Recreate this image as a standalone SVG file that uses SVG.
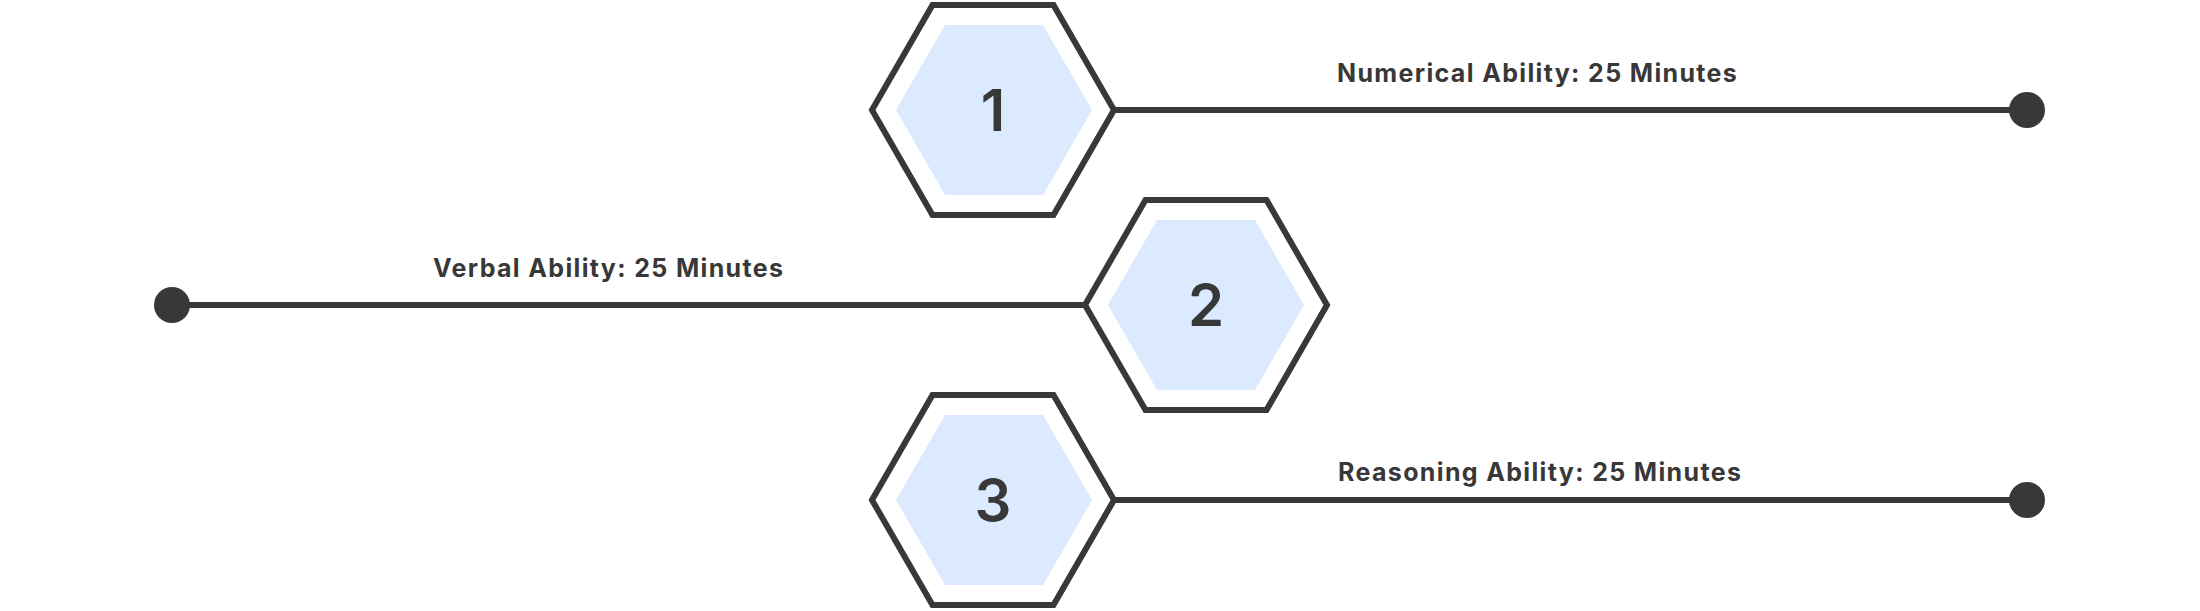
<svg xmlns="http://www.w3.org/2000/svg" width="2200" height="611" viewBox="0 0 2200 611">
<style>
.outer{fill:#ffffff;stroke:#383838;stroke-width:6;stroke-linejoin:miter}
.inner{fill:#dbeafe}
.num{font-family:Inter,"Liberation Sans",sans-serif;font-weight:600;font-size:58px;fill:#383838;text-anchor:middle}
.lbl{font-family:Inter,"Liberation Sans",sans-serif;font-weight:700;font-size:25px;letter-spacing:1.35px;fill:#383838}
.conn{stroke:#383838;stroke-width:6;fill:none}
.dot{fill:#383838}
</style>
<rect width="2200" height="611" fill="#ffffff"/>
<g id="connectors">
<line class="conn" x1="1114" y1="110" x2="2027" y2="110"/>
<circle class="dot" cx="2027" cy="110" r="18"/>
<line class="conn" x1="1085" y1="305" x2="172" y2="305"/>
<circle class="dot" cx="172" cy="305" r="18"/>
<line class="conn" x1="1114" y1="500" x2="2027" y2="500"/>
<circle class="dot" cx="2027" cy="500" r="18"/>
<text class="lbl" x="1337" y="82">Numerical Ability: 25 Minutes</text>
<text class="lbl" x="433" y="277">Verbal Ability: 25 Minutes</text>
<text class="lbl" x="1338" y="481">Reasoning Ability: 25 Minutes</text>
</g>
<g id="node1">
<polygon class="outer" points="872,110 932.5,5 1053.5,5 1114,110 1053.5,215 932.5,215"/>
<polygon class="inner" points="896,110 945,25 1043,25 1092,110 1043,195 945,195"/>
<text class="num" x="993" y="131">1</text>
</g>
<g id="node2">
<polygon class="outer" points="1085,305 1145.5,200 1266.5,200 1327,305 1266.5,410 1145.5,410"/>
<polygon class="inner" points="1108,305 1157,220 1255,220 1304,305 1255,390 1157,390"/>
<text class="num" x="1206" y="326">2</text>
</g>
<g id="node3">
<polygon class="outer" points="872,500 932.5,395 1053.5,395 1114,500 1053.5,605 932.5,605"/>
<polygon class="inner" points="896,500 945,415 1043,415 1092,500 1043,585 945,585"/>
<text class="num" x="993" y="521">3</text>
</g>
</svg>
